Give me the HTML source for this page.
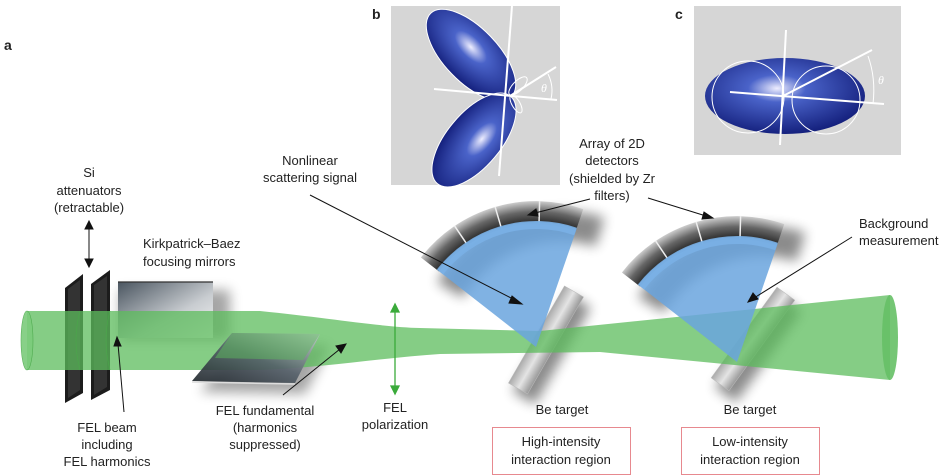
<!DOCTYPE html>
<html><head><meta charset="utf-8"><style>
html,body{margin:0;padding:0;background:#fff;}
svg{display:block;}
text{font-family:"Liberation Sans Narrow","Liberation Sans",sans-serif;font-size:13px;fill:#222;}
</style></head><body>
<svg width="946" height="476" viewBox="0 0 946 476" xmlns="http://www.w3.org/2000/svg">
<defs>
<filter id="sh" x="-50%" y="-50%" width="200%" height="200%"><feGaussianBlur stdDeviation="6"/></filter>
<linearGradient id="mir1" x1="0" y1="0" x2="1" y2="1"><stop offset="0" stop-color="#4a5560"/><stop offset="0.6" stop-color="#c8ccd0"/><stop offset="1" stop-color="#f4f4f4"/></linearGradient>
<linearGradient id="mir2" x1="0" y1="1" x2="1" y2="0"><stop offset="0" stop-color="#1c2328"/><stop offset="0.5" stop-color="#55606a"/><stop offset="1" stop-color="#c9ced2"/></linearGradient>
<radialGradient id="det" gradientUnits="userSpaceOnUse" cx="536" cy="347" r="147"><stop offset="0.83" stop-color="#1e1e1e"/><stop offset="0.92" stop-color="#666"/><stop offset="1" stop-color="#d8d8d8"/></radialGradient>
<linearGradient id="slab" x1="0" y1="0" x2="1" y2="0"><stop offset="0" stop-color="#aaa"/><stop offset="0.5" stop-color="#e4e4e4"/><stop offset="1" stop-color="#999"/></linearGradient>
<radialGradient id="lobe" cx="0.45" cy="0.4" r="0.6"><stop offset="0" stop-color="#eef"/><stop offset="0.3" stop-color="#4a63c9"/><stop offset="1" stop-color="#15217e"/></radialGradient>
</defs>

<rect x="391" y="6" width="169" height="179" fill="#d6d6d6"/>
<rect x="694" y="6" width="207" height="149" fill="#d6d6d6"/>
<text x="372" y="19" style="font-weight:bold;font-size:14px">b</text>
<text x="675" y="19" style="font-weight:bold;font-size:14px">c</text>
<text x="4" y="50" style="font-weight:bold;font-size:14px">a</text>

<!-- inset b -->
<ellipse cx="471" cy="55" rx="58" ry="27" transform="rotate(46 471 55)" fill="url(#lobe)" stroke="#fff" stroke-width="1"/>
<ellipse cx="474" cy="140" rx="57" ry="27" transform="rotate(130 474 140)" fill="url(#lobe)" stroke="#fff" stroke-width="1"/>
<ellipse cx="518" cy="86" rx="12" ry="5" transform="rotate(-45 518 86)" fill="none" stroke="#fff" stroke-width="1"/>
<ellipse cx="516" cy="104" rx="10" ry="4" transform="rotate(60 516 104)" fill="none" stroke="#fff" stroke-width="1"/>
<line x1="512" y1="6" x2="499" y2="176" stroke="#fff" stroke-width="2"/>
<line x1="434" y1="89" x2="557" y2="100" stroke="#fff" stroke-width="2"/>
<line x1="510" y1="96" x2="556" y2="67" stroke="#fff" stroke-width="2"/>
<path d="M548 74 Q554 86 551 99" fill="none" stroke="#fff" stroke-width="1"/>
<text x="541" y="92" style="fill:#fff;font-style:italic;font-family:'Liberation Serif',serif;font-size:12px">θ</text>

<!-- inset c -->
<ellipse cx="785" cy="96" rx="80" ry="38" fill="url(#lobe)"/>
<circle cx="748" cy="97" r="36" fill="none" stroke="#fff" stroke-width="1"/>
<circle cx="826" cy="100" r="34" fill="none" stroke="#fff" stroke-width="1"/>
<line x1="786" y1="30" x2="780" y2="145" stroke="#fff" stroke-width="2"/>
<line x1="730" y1="92" x2="884" y2="104" stroke="#fff" stroke-width="2"/>
<line x1="783" y1="96" x2="872" y2="50" stroke="#fff" stroke-width="2"/>
<path d="M868 56 Q876 78 873 104" fill="none" stroke="#fff" stroke-width="1"/>
<text x="878" y="84" style="fill:#fff;font-style:italic;font-family:'Liberation Serif',serif;font-size:12px">θ</text>

<!-- shadows -->
<rect x="120" y="290" width="110" height="50" fill="#000" opacity="0.35" filter="url(#sh)"/>
<polygon points="200,392 305,394 330,345 240,344" fill="#000" opacity="0.35" filter="url(#sh)"/>
<g filter="url(#sh)" opacity="0.45"><path d="M450 290 A130 130 0 0 1 600 232" stroke="#000" stroke-width="30" fill="none"/><path d="M651 305 A130 130 0 0 1 801 247" stroke="#000" stroke-width="30" fill="none"/>
<rect x="-11" y="-52" width="26" height="112" transform="translate(552,345) rotate(30)" fill="#000"/>
<rect x="-11" y="-52" width="26" height="112" transform="translate(759,345) rotate(36)" fill="#000"/></g>

<rect x="118" y="282" width="95" height="56" fill="url(#mir1)"/>
<line x1="118" y1="282" x2="213" y2="282" stroke="#333" stroke-width="1.2"/>

<polygon points="65,288 83,274 83,393 65,403" fill="#1c1c1c"/>
<polygon points="68,289 80,280 80,390 68,398" fill="#333"/>
<polygon points="91,284 110,270 110,390 91,400" fill="#1c1c1c"/>
<polygon points="94,285 107,276 107,387 94,395" fill="#333"/>

<rect x="-11" y="-56" width="22" height="112" transform="translate(546,340) rotate(30)" fill="url(#slab)" stroke="#bbb" stroke-width="0.5"/>
<rect x="-11" y="-56" width="22" height="112" transform="translate(753,339) rotate(36)" fill="url(#slab)" stroke="#bbb" stroke-width="0.5"/>

<path d="M27 311 L260 311 C330 318 380 327 420 328 L540 331 L890 295 L890 380 L600 352 L440 354 C380 358 320 368 260 370 L27 370 Z" fill="#5cbc5c" opacity="0.75"/>
<ellipse cx="27" cy="340.5" rx="6" ry="29.5" fill="#7ccc7c" stroke="#4aa84a" stroke-width="0.6" opacity="0.9"/>
<ellipse cx="890" cy="337.5" rx="8" ry="42.5" fill="#66c066" opacity="0.9"/>
<path d="M80 311 Q72 340 80 370 M110 311 Q102 340 110 370" stroke="#4aa84a" stroke-width="0.6" fill="none"/>

<polygon points="192,381 295,383 320,334 232,333" fill="url(#mir2)" opacity="0.9"/>
<polygon points="232,333 320,334 303,360 215,358" fill="#5cbc5c" opacity="0.5"/>
<line x1="192" y1="382" x2="295" y2="384" stroke="#ddd" stroke-width="1.5"/>

<g id="sec">
<path d="M430 264.5 A134 134 0 0 1 579.5 220" stroke="url(#det)" stroke-width="23" fill="none"/>
<g stroke="#eee" stroke-width="1.5"><line x1="467.4" y1="244.9" x2="454.5" y2="225.8"/><line x1="501.6" y1="228.9" x2="495.1" y2="206.8"/><line x1="539" y1="224" x2="539.6" y2="201"/></g>
<path d="M536 347 L437.5 270 A125 125 0 0 1 576.7 228.8 Z" fill="#6aa4de" opacity="0.85"/>
<path d="M440 272 A122 122 0 0 1 575.5 231.5" stroke="#7ab0e6" stroke-width="8" fill="none" opacity="0.9"/>
</g>
<g transform="translate(201,15)">
<path d="M430 264.5 A134 134 0 0 1 579.5 220" stroke="url(#det)" stroke-width="23" fill="none"/>
<g stroke="#eee" stroke-width="1.5"><line x1="467.4" y1="244.9" x2="454.5" y2="225.8"/><line x1="501.6" y1="228.9" x2="495.1" y2="206.8"/><line x1="539" y1="224" x2="539.6" y2="201"/></g>
<path d="M536 347 L437.5 270 A125 125 0 0 1 576.7 228.8 Z" fill="#6aa4de" opacity="0.85"/>
<path d="M440 272 A122 122 0 0 1 575.5 231.5" stroke="#7ab0e6" stroke-width="8" fill="none" opacity="0.9"/>
</g>

<g stroke="#111" stroke-width="1" fill="#111">
<line x1="89" y1="226" x2="89" y2="262"/><polygon points="89,221 85,229 93,229"/><polygon points="89,267 85,259 93,259"/>
<line x1="124" y1="412" x2="118" y2="344"/><polygon points="117,337 114,346 121,346"/>
<line x1="283" y1="395" x2="340" y2="349"/><polygon points="346,344 336,346 341,353"/>
<line x1="310" y1="195" x2="515" y2="300"/><polygon points="522,304 512,296 509,303"/>
<line x1="590" y1="199" x2="535" y2="213"/><polygon points="528,215 536,209 538,216"/>
<line x1="648" y1="198" x2="706" y2="216"/><polygon points="713,218 704,212 702,219"/>
<line x1="852" y1="237" x2="754" y2="298"/><polygon points="748,302 753,293 758,299"/>
</g>
<g stroke="#3aaa3a" stroke-width="1.3" fill="#3aaa3a">
<line x1="395" y1="310" x2="395" y2="388"/><polygon points="395,304 391,312 399,312"/><polygon points="395,394 391,386 399,386"/>
</g>

<rect x="492.5" y="427.5" width="138" height="47" fill="#fff" stroke="#e7898f" stroke-width="1"/>
<rect x="681.5" y="427.5" width="138" height="47" fill="#fff" stroke="#e7898f" stroke-width="1"/>

<g text-anchor="middle">
<text x="89" y="177">Si</text><text x="89" y="195">attenuators</text><text x="89" y="212">(retractable)</text>
<text x="107" y="432">FEL beam</text><text x="107" y="449">including</text><text x="107" y="466">FEL harmonics</text>
<text x="265" y="415">FEL fundamental</text><text x="265" y="432">(harmonics</text><text x="265" y="449">suppressed)</text>
<text x="395" y="412">FEL</text><text x="395" y="429">polarization</text>
<text x="310" y="165">Nonlinear</text><text x="310" y="182">scattering signal</text>
<text x="612" y="148">Array of 2D</text><text x="612" y="165">detectors</text><text x="612" y="183">(shielded by Zr</text><text x="612" y="200">filters)</text>
<text x="562" y="414">Be target</text><text x="750" y="414">Be target</text>
<text x="561" y="446">High-intensity</text><text x="561" y="464">interaction region</text>
<text x="750" y="446">Low-intensity</text><text x="750" y="464">interaction region</text>
</g>
<text x="143" y="248">Kirkpatrick–Baez</text><text x="143" y="266">focusing mirrors</text>
<text x="859" y="228">Background</text><text x="859" y="245">measurement</text>
</svg>
</body></html>
